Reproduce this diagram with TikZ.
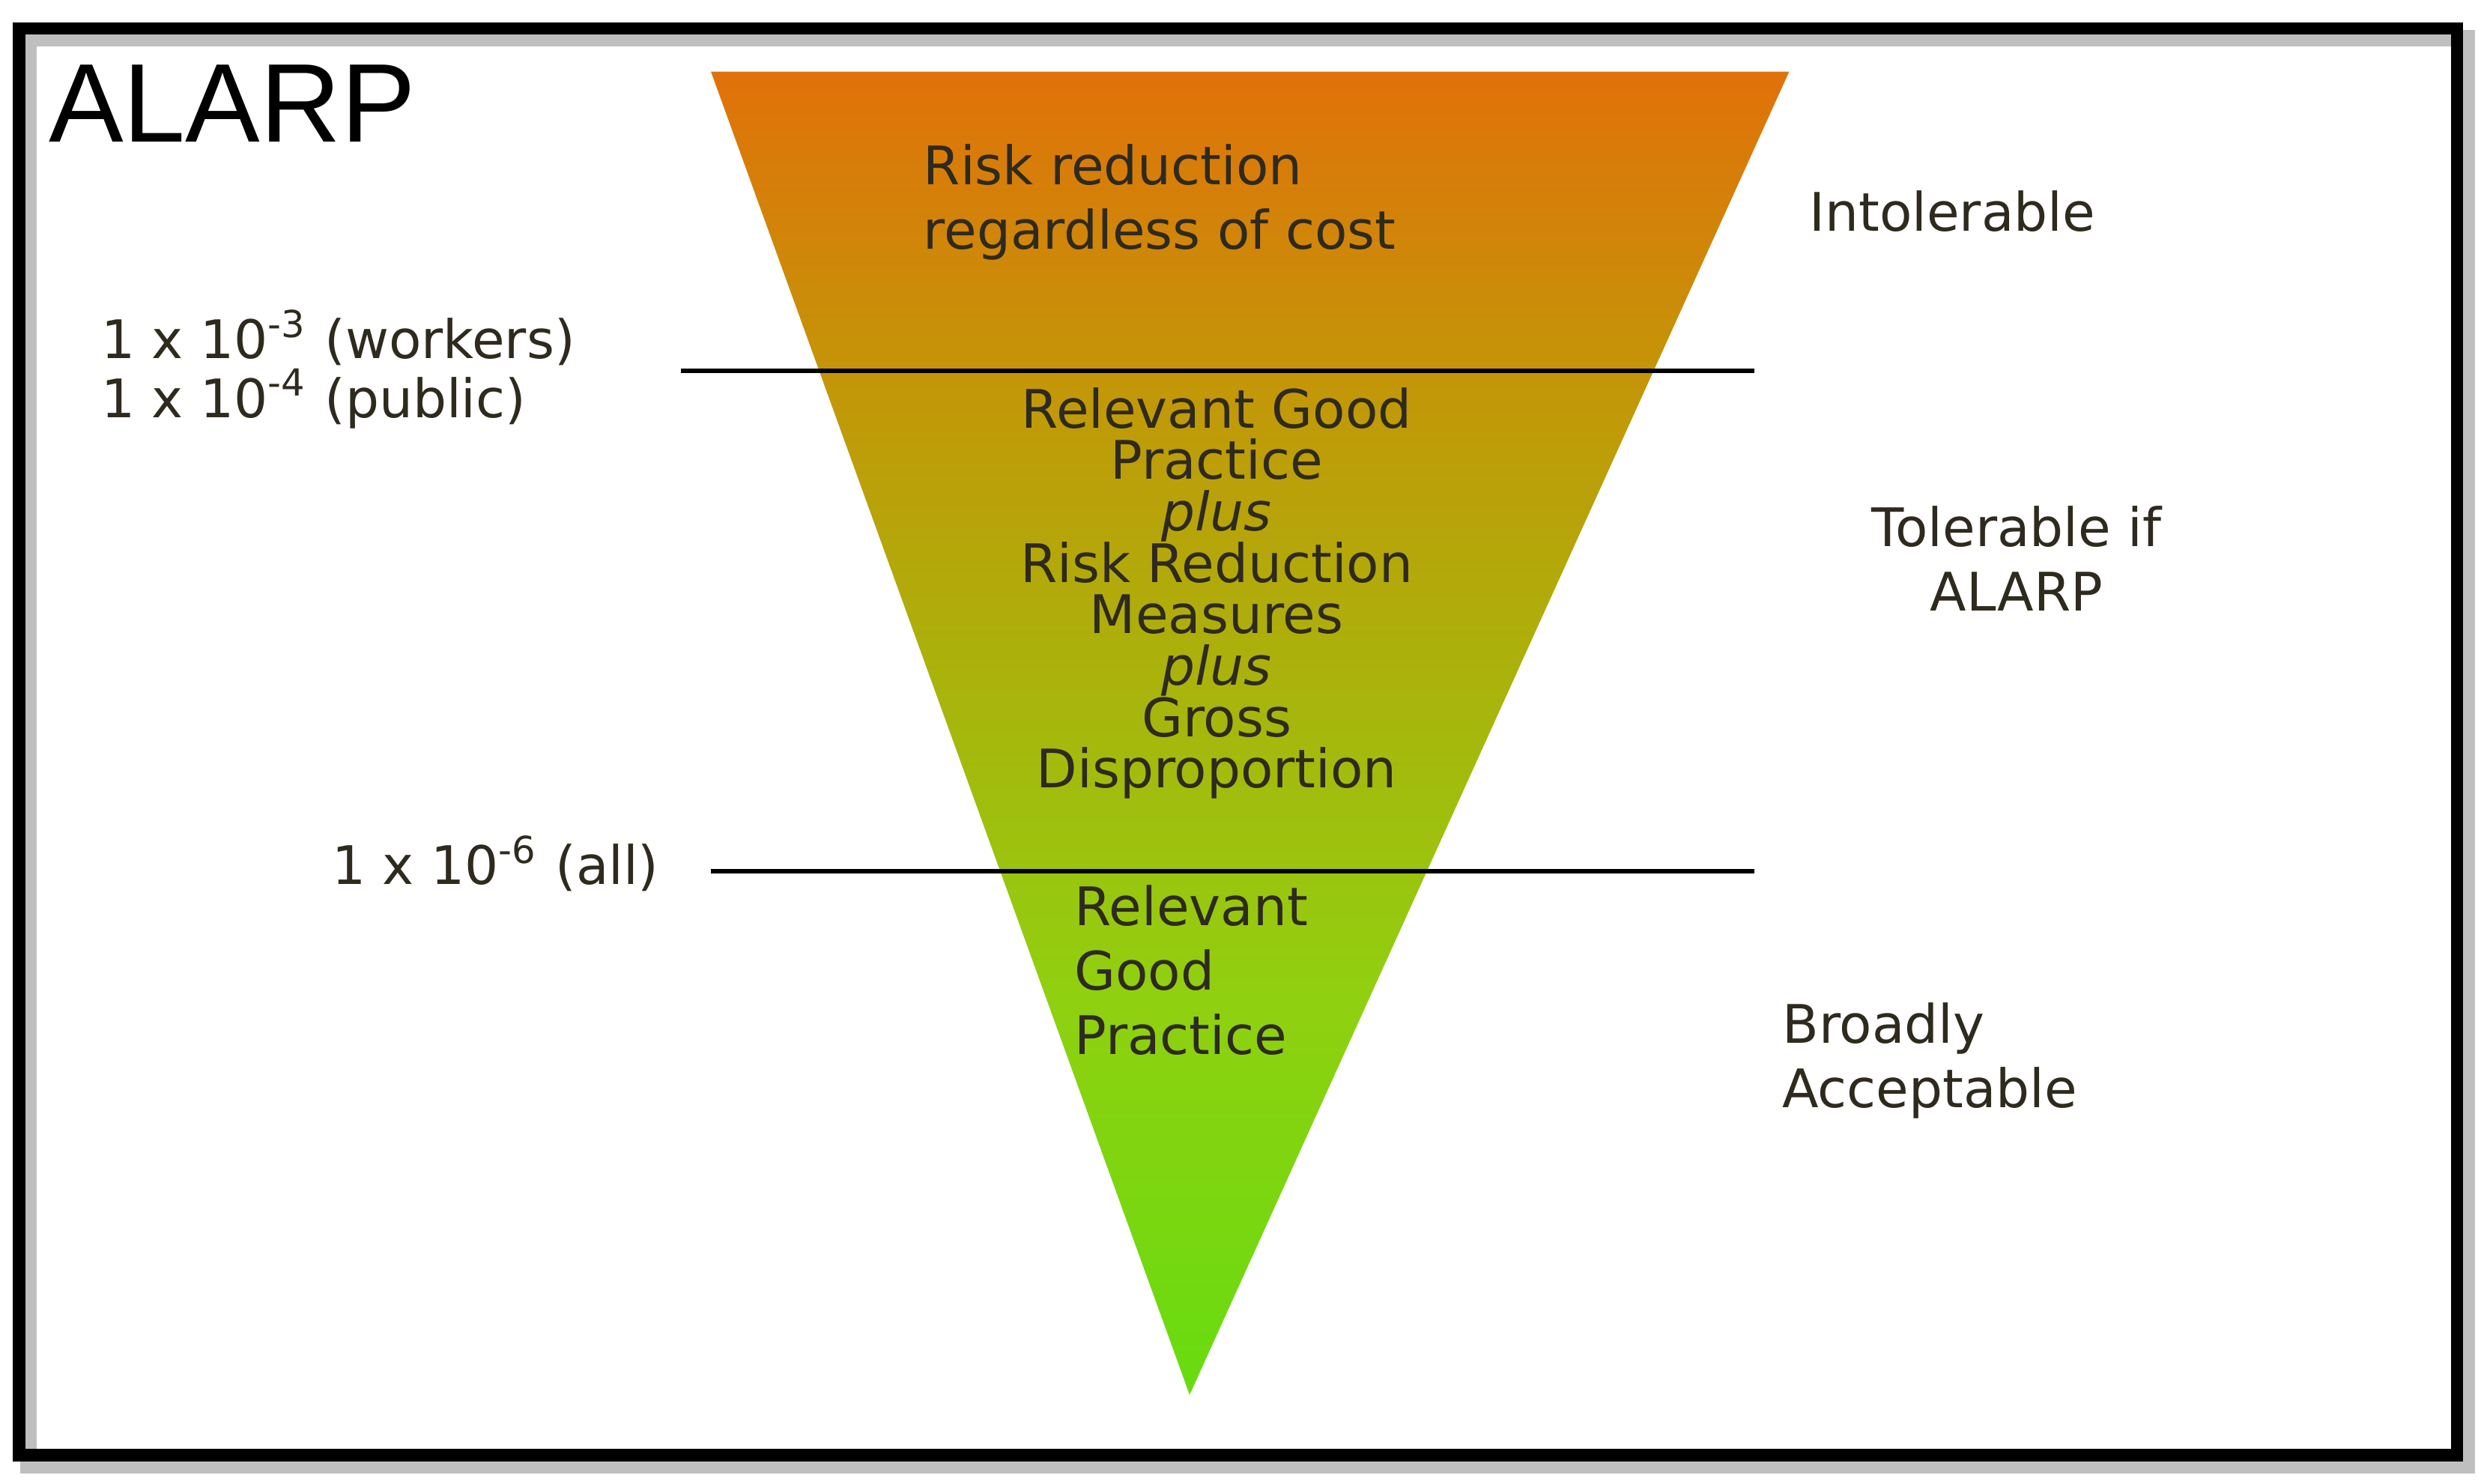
\documentclass[tikz,border=0pt]{standalone}
\usepackage{fontspec}
\setmainfont{DejaVu Sans}
\newfontfamily\lsans{Liberation Sans}
\definecolor{txt}{HTML}{2E2A1E}
\definecolor{g0}{HTML}{22F010}
\definecolor{g1}{HTML}{90D010}
\definecolor{g2}{HTML}{C09A08}
\definecolor{g3}{HTML}{E8680A}
\definecolor{g4}{HTML}{FF2000}
\pgfdeclareverticalshading{alarpshade}{100bp}{color(0bp)=(g0); color(40bp)=(g1); color(62bp)=(g2); color(78bp)=(g3); color(100bp)=(g4)}
\begin{document}
\begin{tikzpicture}[x=0.01cm,y=-0.01cm,
  lbl/.style={font=\fontsize{9.5}{11.5}\selectfont, text=txt, inner sep=0pt},
  tri/.style={shading=alarpshade}]
\useasboundingbox (0,0) rectangle (1560,933);
\fill[white] (0,0) rectangle (1560,933);
\draw[gray!50, line width=3pt] (18,24) rectangle (1551,921);
\draw[black, line width=2.2pt] (12,18) rectangle (1545,915);
\node[font=\lsans\fontsize{20}{24}\selectfont, anchor=west, inner sep=0pt] (title) at (30,65) {ALARP};
\shade[tri] (447,45) -- (1125,45) -- (748,877) -- cycle;
\coordinate (l1a) at (428,233); \coordinate (l1b) at (1103,233);
\coordinate (l2a) at (447,548); \coordinate (l2b) at (1103,548);
\draw[line width=0.8pt] (l1a) -- (l1b);
\draw[line width=0.8pt] (l2a) -- (l2b);
\node[lbl, anchor=west, align=left] (top) at (580,127) {Risk reduction\\regardless of cost};
\node[lbl, anchor=west] (intol) at (1137,133) {Intolerable};
\node[lbl, anchor=west, align=left] (w) at (63,232) {1 x 10\textsuperscript{-3} (workers)\\[-1pt]1 x 10\textsuperscript{-4} (public)};
\node[lbl, align=center, font=\fontsize{9.5}{9.2}\selectfont] (mid) at (765,373) {Relevant Good\\Practice\\{\itshape plus}\\Risk Reduction\\Measures\\{\itshape plus}\\Gross\\Disproportion};
\node[lbl, align=center] (tol) at (1268,351) {Tolerable if\\ALARP};
\node[lbl, anchor=east] (all) at (415,543) {1 x 10\textsuperscript{-6} (all)};
\node[lbl, anchor=west, align=left] (bot) at (675,610) {Relevant\\Good\\Practice};
\node[lbl, anchor=west, align=left] (broad) at (1120,667) {Broadly\\Acceptable};
\end{tikzpicture}
\end{document}
